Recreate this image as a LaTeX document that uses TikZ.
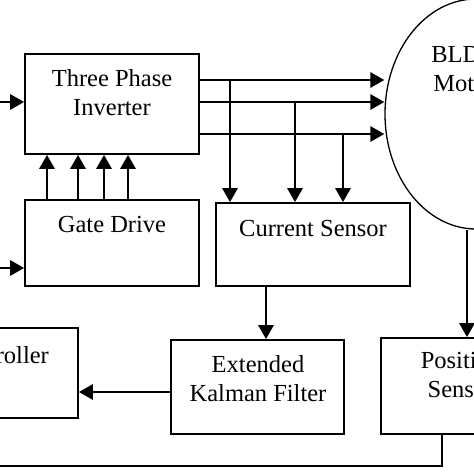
\documentclass[tikz,border=0pt]{standalone}
\usepackage{fontspec}
\setmainfont{Liberation Serif}
\usetikzlibrary{shapes,arrows.meta,positioning,calc}

\begin{document}
\begin{tikzpicture}[
    x=1pt, y=-1pt,
    block/.style={rectangle, draw, line width=1.7pt, inner sep=0pt},
    blocktext/.style={font=\fontsize{24.5}{29}\selectfont, align=center, inner sep=0pt},
    motor/.style={ellipse, draw, line width=1.3pt, inner sep=0pt,
                  minimum width=182pt, minimum height=230pt},
    conn/.style={-{Triangle[length=14pt, width=15pt]}, line width=2.9pt},
    wire/.style={line width=2.9pt}
]
\useasboundingbox (0,0) rectangle (474,474);
\clip (0,0) rectangle (474,474);

% Power stage
\node[block, minimum width=174pt, minimum height=100pt] (inverter) at (112,104) {};
\node[blocktext] (invertertext) at (112,93) {Three Phase\\Inverter};
\node[block, minimum width=174pt, minimum height=86pt] (gate) at (112,243) {};
\node[blocktext] (gatetext) at (112,225) {Gate Drive};

% Motor
\node[motor] (motor) at (476,114) {};
\node[blocktext] (motortext) at (464,69) {BLDC\\Motor};

% Sensing and estimation
\node[block, minimum width=194pt, minimum height=83pt] (current) at (313,244.5) {};
\node[blocktext] (currenttext) at (313,229) {Current Sensor};
\node[block, minimum width=173pt, minimum height=94pt] (ekf) at (257.5,387) {};
\node[blocktext] (ekftext) at (258,379) {Extended\\Kalman Filter};
\node[block, minimum width=160pt, minimum height=96pt] (position) at (461,386) {};
\node[blocktext] (positiontext) at (461,375.5) {Position\\Sensor};
\node[block, minimum width=160pt, minimum height=90pt] (controller) at (-2,373) {};
\node[blocktext] (controllertext) at (-1.5,355) {Controller};

% Free ends and phase taps
\coordinate (ina) at (-20,102);
\coordinate (inb) at (-20,268);
\coordinate (fb) at (-20,466);
\coordinate (pa) at (230,80);
\coordinate (pb) at (295,102);
\coordinate (pc) at (343,134);

% Connections
\draw[conn] (ina) -- (inverter.west |- ina);
\draw[conn] (inb) -- (gate.west |- inb);
\foreach \x in {47,78,104,128}
  \draw[conn] (gate.north -| \x,0) -- (inverter.south -| \x,0);
\foreach \p in {pa,pb,pc} {
  \draw[conn] (inverter.east |- \p) -- (motor.west |- \p);
  \draw[conn] (\p) -- (current.north -| \p);
}
\draw[conn] (current.south -| 266,0) -- (ekf.north -| 266,0);
\draw[conn] (ekf.west |- 0,392) -- (controller.east |- 0,392);
\draw[conn] (motor.south -| 467,0) -- (position.north -| 467,0);
\draw[wire] (position.south -| 442,0) |- (fb);

\end{tikzpicture}
\end{document}
